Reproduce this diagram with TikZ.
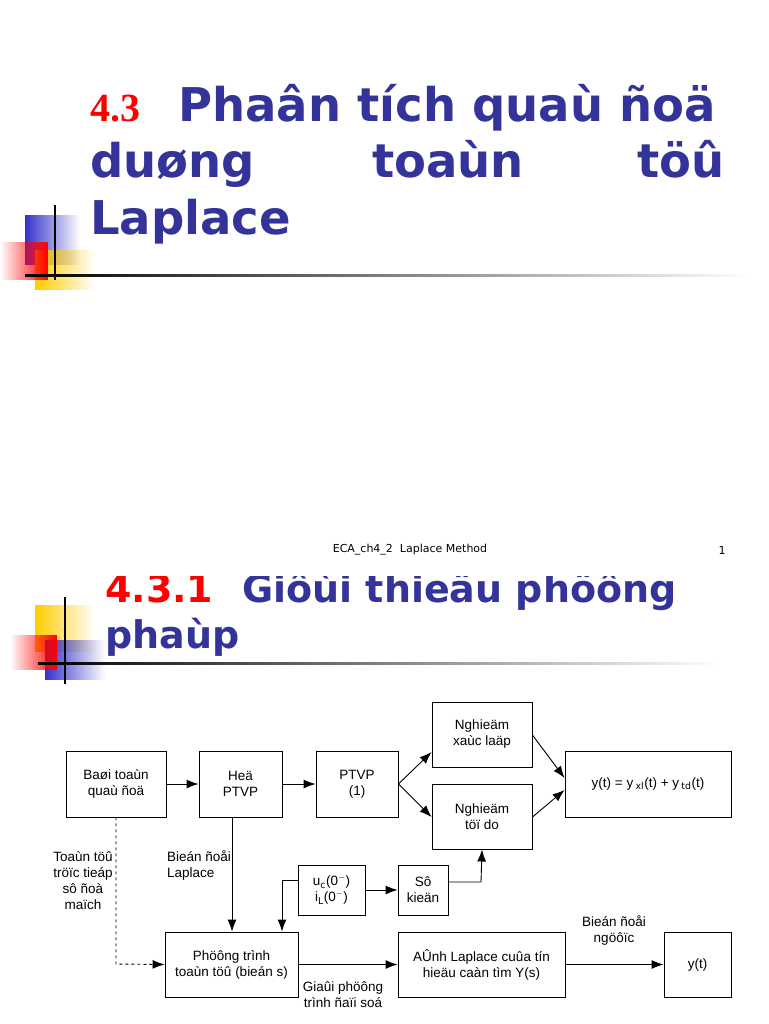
\documentclass[tikz,border=0pt]{standalone}
\usepackage{fontspec}
\setmainfont{DejaVu Sans}
\newfontfamily\diagfont{Liberation Sans}
\newfontfamily\serfont{Liberation Serif}
\usetikzlibrary{arrows.meta,fadings}
\definecolor{tblue}{RGB}{51,51,153}
\definecolor{sqblue}{RGB}{51,51,204}
\definecolor{sqyel}{RGB}{255,204,0}
\tikzfading[name=fade right2, left color=transparent!0, right color=transparent!100]
\begin{document}
\begin{tikzpicture}[x=1pt,y=-1pt,
  box/.style={draw,line width=0.9pt,inner sep=0pt,font=\diagfont\fontsize{13.5}{16}\selectfont,align=center},
  lbl/.style={font=\diagfont\fontsize{13.5}{16}\selectfont,align=center},
  arr/.style={-{Latex[length=12pt,width=9pt]},line width=0.9pt},
  title/.style={font=\bfseries\fontsize{46.5}{50}\selectfont,text=tblue,anchor=base west,inner sep=0pt}]
\useasboundingbox[fill=white] (0,0) rectangle (768,1024);
% decoration 1
\fill[sqblue,path fading=east] (25,215) rectangle (80,265);
\fill[sqyel,path fading=east] (35,250) rectangle (95,290);
\fill[red,path fading=west] (0,242) rectangle (48,280);
\draw[line width=2pt] (55,205) -- (55,280);
\fill[black,path fading=fade right2] (25,273.5) rectangle (750,277);
% title 1
\node[anchor=base west,inner sep=0pt,text=red,font=\serfont\bfseries\fontsize{40}{40}\selectfont] (n43) at (90,122) {4.3};
\node[title] (t1) at (178,122) {Phaân tích quaù ñoä};
\node[title] (t2a) at (90,178) {duøng};
\node[title] (t2b) at (372,178) {toaùn};
\node[title,anchor=base east] (t2c) at (725,178) {töû};
\node[title] (t3) at (90,234) {Laplace};
% footer
\node[font=\fontsize{11}{12}\selectfont] (ft) at (410,550) {ECA\_ch4\_2\ \ Laplace Method};
\node[font=\fontsize{11}{12}\selectfont] (pg) at (722,550) {1};
% title 2
\begin{scope}
\clip (0,576) rectangle (768,1024);
\node[anchor=base west,inner sep=0pt,text=red,font=\bfseries\fontsize{38}{40}\selectfont] (n431) at (105,602) {4.3.1};
\node[title,font=\bfseries\fontsize{38}{40}\selectfont] (s1) at (242,602) {Giôùi thieäu phöông};
\end{scope}
\node[title,font=\bfseries\fontsize{38}{40}\selectfont] (s2) at (105,648) {phaùp};
% decoration 2
\fill[sqyel,path fading=east] (35,605) rectangle (95,652);
\fill[sqblue,path fading=east] (45,640) rectangle (105,680);
\fill[red,path fading=west] (10,635) rectangle (57,670);
\draw[line width=2pt] (65,597) -- (65,684);
\fill[black,path fading=fade right2] (38,662) rectangle (720,664.5);
% diagram
\node[box,minimum width=100,minimum height=66] (b1) at (116,784) {Baøi toaùn\\ quaù ñoä};
\node[box,minimum width=83,minimum height=66] (b2) at (240.5,784) {Heä\\PTVP};
\node[box,minimum width=82,minimum height=66] (b3) at (357,784) {PTVP\\(1)};
\node[box,minimum width=100,minimum height=65] (b4) at (482,734.5) {Nghieäm\\xaùc laäp};
\node[box,minimum width=100,minimum height=65] (b5) at (482,816.5) {Nghieäm\\töï do};
\node[box,minimum width=166,minimum height=66] (b6) at (648,784) {y(t) = y\,$_{\mathrm{xl}}$(t) + y\,$_{\mathrm{td}}$(t)};
\node[box,minimum width=67,minimum height=50] (b7) at (331.5,890) {u$_{\mathrm{c}}$(0$^-$)\\i$_{\mathrm{L}}$(0$^-$)};
\node[box,minimum width=50,minimum height=50] (b8) at (423,890) {Sô\\kieän};
\node[box,minimum width=133,minimum height=65] (b9) at (231.5,964.5) {Phöông trình\\toaùn töû (bieán s)};
\node[box,minimum width=167,minimum height=65] (b10) at (481.5,964.5) {AÛnh Laplace cuûa tín\\hieäu caàn tìm Y(s)};
\node[box,minimum width=67,minimum height=65] (b11) at (697.5,964.5) {y(t)};
\draw[arr] (b1) -- (b2);
\draw[arr] (b2) -- (b3);
\draw[arr] (b3.east) -- (b4.west|-0,752);
\draw[arr] (b3.east) -- (b5.west|-0,817);
\draw[arr] (b4.east|-0,735) -- (b6.west|-0,778);
\draw[arr] (b5.east|-0,817) -- (b6.west|-0,790);
\draw[arr,dashed] (b1.south) -- (116,964) -- (b9.west);
\draw[arr] (b2.south-|232,0) -- (b9.north-|232,0);
\draw[arr] (b7.west|-0,880) -- (282,880) -- (b9.north-|282,0);
\draw[arr] (b7.east|-0,890) -- (b8.west|-0,890);
\draw[arr] (b8.east|-0,882) -- (481,882) -- (b5.south);
\draw[arr] (b9) -- (b10);
\draw[arr] (b10) -- (b11);
\node[lbl] (l1) at (83,881) {Toaùn töû\\tröïc tieáp\\sô ñoà\\maïch};
\node[lbl,align=left] (l2) at (199,865) {Bieán ñoåi\\Laplace};
\node[lbl] (l3) at (343,995) {Giaûi phöông\\trình ñaïi soá};
\node[lbl] (l4) at (614,930) {Bieán ñoåi\\ngöôïc};
\end{tikzpicture}
\end{document}
